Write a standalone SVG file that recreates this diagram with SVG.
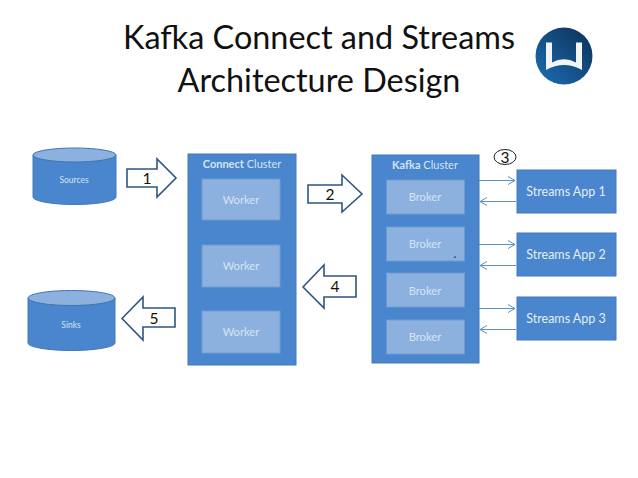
<svg xmlns="http://www.w3.org/2000/svg" width="638" height="478" viewBox="0 0 638 478">
<defs>
<linearGradient id="logoGrad" x1="0" y1="1" x2="1" y2="0"><stop offset="0" stop-color="#1c6fb5"/><stop offset="1" stop-color="#0c2f55"/></linearGradient>
<marker id="open" markerWidth="9" markerHeight="9" refX="8" refY="4.5" orient="auto" markerUnits="userSpaceOnUse"><path d="M1 0.5L8 4.5L1 8.5" fill="none" stroke="#5b8fc9" stroke-width="1"/></marker>
</defs>
<style>
text{font-family:Lato,"Liberation Sans",sans-serif;text-anchor:middle}
.title{font-size:32.4px;fill:#111}
.box{fill:#4a86cd;stroke:#4279bb;stroke-width:1}
.inner{fill:#8db1de;stroke:#6f9ad0;stroke-width:1}
.top{fill:#8db1de;stroke:#3f74b3;stroke-width:1}
.lbl{font-size:11.2px;fill:#d5e3f4}
.head{font-size:11px;fill:#d5e3f4}
.app{font-size:12.5px;fill:#e3edf8}
.small{font-size:8.5px;fill:#d5e3f4}
.arr{fill:#fff;stroke:#2f5680;stroke-width:1.6;stroke-linejoin:miter}
.num{font-size:15.5px;fill:#111}
.link{stroke:#5b8fc9;stroke-width:1;fill:none;marker-end:url(#open)}
</style>
<rect width="638" height="478" fill="#fff"/>
<text class="title" x="319" y="49">Kafka Connect and Streams</text>
<text class="title" x="319" y="92">Architecture Design</text>
<g id="logo">
<circle cx="564" cy="56" r="28.500" fill="url(#logoGrad)"/>
<path d="M546 42.500H552V62.500Q564 56 576 62.500V42.500H582V70Q564 60 546 70Z" fill="#f2f5f8"/>
</g>
<g id="connectors">
<line class="link" x1="479" y1="180.500" x2="515" y2="180.500"/>
<line class="link" x1="516" y1="201.500" x2="480" y2="201.500"/>
<line class="link" x1="479" y1="244.500" x2="515" y2="244.500"/>
<line class="link" x1="516" y1="265.500" x2="480" y2="265.500"/>
<line class="link" x1="479" y1="308.500" x2="515" y2="308.500"/>
<line class="link" x1="516" y1="329.500" x2="480" y2="329.500"/>
</g>
<g id="sources">
<path class="box" d="M33 155V197A41.500 7.500 0 0 0 116 197V155Z"/>
<ellipse class="top" cx="74.500" cy="155" rx="41.500" ry="7"/>
<text class="small" x="74" y="183">Sources</text>
</g>
<g id="sinks">
<path class="box" d="M28 298V343A43.500 7.500 0 0 0 115 343V298Z"/>
<ellipse class="top" cx="71.500" cy="298" rx="43.500" ry="7.500"/>
<text class="small" x="71" y="328">Sinks</text>
</g>
<g id="arrow1">
<path class="arr" d="M127 169H157V159L176 178L157 197V187H127Z"/>
<text class="num" x="147" y="184">1</text>
</g>
<g id="connect-cluster">
<rect class="box" x="188" y="154" width="108" height="211"/>
<text class="head" x="242" y="168"><tspan font-weight="700">Connect</tspan> Cluster</text>
</g>
<g id="worker1"><rect class="inner" x="202" y="179" width="78" height="41"/><text class="lbl" x="241" y="204">Worker</text></g>
<g id="worker2"><rect class="inner" x="202" y="245" width="78" height="42"/><text class="lbl" x="241" y="270">Worker</text></g>
<g id="worker3"><rect class="inner" x="202" y="311" width="78" height="42"/><text class="lbl" x="241" y="336">Worker</text></g>
<g id="arrow2">
<path class="arr" d="M308 185H342V175L362 194L342 212V203H308Z"/>
<text class="num" x="330" y="200">2</text>
</g>
<g id="arrow4">
<path class="arr" d="M303 287L324 265V276H356V297H324V308Z"/>
<text class="num" x="335" y="292">4</text>
</g>
<g id="arrow5">
<path class="arr" d="M122 318.500L143 297V308H175V327H143V340Z"/>
<text class="num" x="154" y="324">5</text>
</g>
<g id="kafka-cluster">
<rect class="box" x="372" y="155" width="107" height="208"/>
<text class="head" x="425" y="169"><tspan font-weight="700">Kafka</tspan> Cluster</text>
</g>
<g id="broker1"><rect class="inner" x="386.500" y="180" width="78" height="34"/><text class="lbl" x="425" y="201">Broker</text></g>
<g id="broker2"><rect class="inner" x="386.500" y="227" width="78" height="34"/><text class="lbl" x="425" y="248">Broker</text><text x="455" y="258" font-size="12" font-weight="700" fill="#1f4e86">.</text></g>
<g id="broker3"><rect class="inner" x="386.500" y="273" width="78" height="34"/><text class="lbl" x="425" y="295">Broker</text></g>
<g id="broker4"><rect class="inner" x="386.500" y="320" width="78" height="34"/><text class="lbl" x="425" y="341">Broker</text></g>
<g id="step3">
<ellipse cx="505" cy="157" rx="11" ry="7.500" fill="#fff" stroke="#222" stroke-width="1"/>
<text class="num" x="505" y="162.500">3</text>
</g>
<g id="app1"><rect class="box" x="517" y="170" width="99" height="43"/><text class="app" x="566" y="196">Streams App 1</text></g>
<g id="app2"><rect class="box" x="517" y="233" width="99" height="43"/><text class="app" x="566" y="259">Streams App 2</text></g>
<g id="app3"><rect class="box" x="517" y="297" width="99" height="43"/><text class="app" x="566" y="323">Streams App 3</text></g>
</svg>
